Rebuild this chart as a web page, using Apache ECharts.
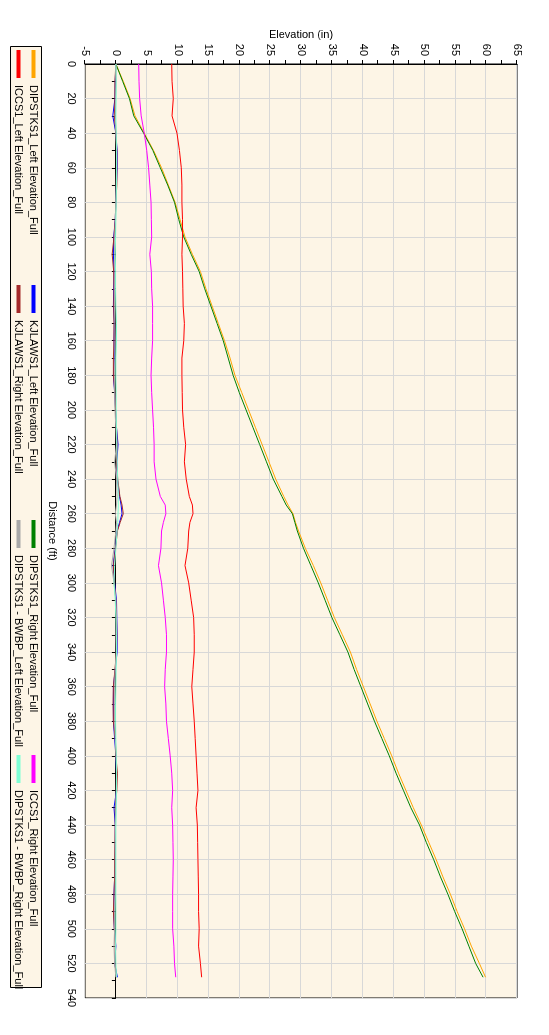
<!DOCTYPE html>
<html>
<head>
<meta charset="utf-8">
<script src="https://cdn.jsdelivr.net/npm/echarts@6/dist/echarts.min.js"></script>
<style>
html,body{margin:0;padding:0;background:#fff;width:549px;height:1035px;overflow:hidden;}
#chart{position:absolute;left:0;top:0;width:1035px;height:549px;transform-origin:0 0;transform:translate(549px,0) rotate(90deg);}
</style>
</head>
<body>
<div id="chart"></div>
<script>
// Distance (ft) sample positions
const distance = [0,10,20,30,40,50,60,70,80,90,100,110,120,130,140,150,160,170,180,190,200,210,220,230,240,250,255,260,265,270,280,290,300,310,320,330,340,350,360,370,380,390,400,410,420,430,440,450,460,470,480,490,500,510,520,528];

// Elevation (in) per series
const dipstksLeft = [0,1.2,2.3,3.1,4.6,6.1,7.4,8.5,9.6,10.4,11.2,12.4,13.7,14.6,15.6,16.6,17.6,18.5,19.3,20.4,21.5,22.6,23.7,24.8,25.9,27.2,27.9,28.7,29.1,29.6,30.7,32.0,33.2,34.3,35.4,36.7,38.0,39.0,40.1,41.2,42.3,43.5,44.7,45.8,47.0,48.2,49.5,50.7,51.9,53.0,54.2,55.3,56.5,57.6,58.9,59.9];
const kjlawsLeft = [0,-0.1,-0.15,-0.5,0,0.2,0.2,0.1,0,-0.1,-0.35,-0.4,-0.3,-0.35,-0.4,-0.25,-0.3,-0.25,-0.4,-0.2,-0.05,0.1,0.35,0.15,0.25,0.6,0.85,1.0,0.6,0.2,-0.1,-0.45,-0.2,0.1,0.15,0.2,0.2,-0.1,-0.4,-0.4,-0.4,-0.2,0,0.1,0.1,-0.3,-0.1,-0.1,-0.15,-0.2,-0.3,-0.35,-0.25,0,-0.2,0.25];
const dipstksRight = [0,1.1,2.2,2.9,4.5,6.0,7.2,8.4,9.5,10.2,11.0,12.2,13.5,14.4,15.4,16.4,17.4,18.2,19.0,20.0,21.1,22.2,23.3,24.4,25.5,26.9,27.6,28.6,29.0,29.4,30.4,31.6,32.8,33.9,35.0,36.3,37.6,38.6,39.7,40.8,41.9,43.1,44.3,45.4,46.6,47.8,49.2,50.3,51.5,52.6,53.8,54.9,56.1,57.2,58.3,59.5];
const iccsRight = [3.7,3.75,3.85,4.1,4.6,5.0,5.3,5.5,5.7,5.75,5.8,5.5,5.75,5.8,5.95,5.95,5.95,5.8,5.7,5.8,5.95,6.1,6.2,6.2,6.5,7.2,8.0,8.1,7.7,7.4,7.3,6.9,7.4,7.7,8.0,8.2,8.2,8.0,7.9,8.1,8.2,8.5,8.8,9.05,9.2,9.05,9.2,9.25,9.3,9.25,9.2,9.2,9.2,9.4,9.5,9.7];
const iccsLeft = [9.05,9.1,9.3,9.1,9.9,10.3,10.6,10.7,10.7,10.8,10.8,10.7,10.8,10.85,10.9,11.1,11.0,10.7,10.7,10.75,10.8,11.0,11.3,11.1,11.4,11.9,12.4,12.5,12.0,11.8,11.65,11.2,11.8,12.2,12.6,12.7,12.7,12.5,12.3,12.5,12.7,12.85,13.0,13.15,13.3,13.0,13.2,13.25,13.3,13.35,13.4,13.4,13.5,13.4,13.7,13.9];
const kjlawsRight = [0,-0.15,-0.15,-0.25,0,0.15,0.15,0.15,0,-0.1,-0.3,-0.6,-0.35,-0.3,-0.35,-0.3,-0.3,-0.4,-0.4,-0.15,-0.05,0.1,0.2,0.1,0.3,0.65,1.0,1.2,0.7,0.25,-0.05,-0.4,-0.25,0,0.1,0.15,0.1,-0.15,-0.4,-0.45,-0.4,-0.1,0,0.25,0.15,-0.1,-0.1,-0.15,-0.2,-0.2,-0.3,-0.4,-0.25,-0.1,-0.15,0.1];
const bwbpLeft = [0,0.05,-0.05,-0.1,0.05,0.1,0.1,0.05,0,-0.05,-0.2,-0.2,-0.15,-0.2,-0.2,-0.15,-0.1,-0.15,-0.2,-0.2,-0.15,0,0.1,-0.2,0.1,0.2,0.1,-0.1,0.1,0,-0.3,-0.7,-0.3,0,0.1,0,0.05,-0.1,-0.2,-0.2,-0.2,-0.1,0.1,0.1,0.05,0,-0.05,-0.1,-0.1,-0.1,-0.1,-0.2,-0.2,-0.3,-0.2,0];
const bwbpRight = [0,0.05,0.05,0,0.05,0.1,0.1,0.1,0.05,0,-0.05,-0.1,-0.05,-0.05,0,0.1,0.1,0,0,0.05,0.05,0.1,0.15,0.2,0.3,0.4,0.4,0.35,0.3,0.2,0,-0.2,-0.3,-0.1,0,0.1,0.1,0.05,0,-0.05,-0.05,0,0.05,0.1,0.1,0.05,0,0,0,0,0,0,0,-0.05,0,0.1];

const seriesNames = [
  'DIPSTKS1_Left Elevation_Full',
  'KJLAWS1_Left Elevation_Full',
  'DIPSTKS1_Right Elevation_Full',
  'ICCS1_Right Elevation_Full',
  'ICCS1_Left Elevation_Full',
  'KJLAWS1_Right Elevation_Full',
  'DIPSTKS1 - BWBP_Left Elevation_Full',
  'DIPSTKS1 - BWBP_Right Elevation_Full'
];
const seriesValues = [dipstksLeft,kjlawsLeft,dipstksRight,iccsRight,iccsLeft,kjlawsRight,bwbpLeft,bwbpRight];
const seriesColors = ['#FFA500','#0000FF','#008000','#FF00FF','#FF0000','#A52A2A','#A9A9A9','#7FFFD4'];

const FONT = 'Liberation Sans, Arial, sans-serif';
const chart = echarts.init(document.getElementById('chart'), null, {renderer:'canvas'});

const legendLeft = [50,285,520,755];
const legendTop = [509,524];
const legends = seriesNames.map((n,i)=>({
  data:[n],
  left: legendLeft[i%4],
  top: legendTop[Math.floor(i/4)],
  padding:0,
  icon:'rect',
  itemWidth:28,
  itemHeight:4,
  z:5,
  selectedMode:false,
  textStyle:{fontFamily:FONT,fontSize:11,color:'#000',lineHeight:13,padding:[0,0,0,2]}
}));

chart.setOption({
  animation:false,
  backgroundColor:'#fff',
  graphic:[{
    type:'rect', z:1,
    shape:{x:46.5,y:507.5,width:941,height:31},
    style:{fill:'#FDF5E6',stroke:'#000',lineWidth:1}
  }],
  legend: legends,
  grid:{left:64,right:37,top:32,bottom:85,show:true,backgroundColor:'#FDF5E6',borderColor:'#000',borderWidth:1},
  xAxis:{
    type:'value',min:0,max:540,interval:20,
    name:'Distance (ft)',nameLocation:'middle',nameGap:27,
    nameTextStyle:{fontFamily:FONT,fontSize:11,color:'#000'},
    axisLine:{show:true,lineStyle:{color:'#000',width:1}},
    axisTick:{show:true,length:4,lineStyle:{color:'#000'}},
    minorTick:{show:true,splitNumber:2,length:4,lineStyle:{color:'#000'}},
    axisLabel:{fontFamily:FONT,fontSize:11,color:'#000',margin:8,showMinLabel:true,showMaxLabel:true},
    splitLine:{show:true,lineStyle:{color:'#D8D8D8',width:1}}
  },
  yAxis:{
    type:'value',min:-5,max:65,interval:5,
    name:'Elevation (in)',nameLocation:'middle',nameGap:24,nameRotate:90,nameMoveOverlap:false,
    nameTextStyle:{fontFamily:FONT,fontSize:11,color:'#000'},
    axisLine:{show:true,onZero:false,lineStyle:{color:'#000',width:1}},
    axisTick:{show:true,length:4,lineStyle:{color:'#000'}},
    minorTick:{show:true,splitNumber:2,length:4,lineStyle:{color:'#000'}},
    axisLabel:{fontFamily:FONT,fontSize:11,color:'#000',margin:8,showMinLabel:true,showMaxLabel:true},
    splitLine:{show:true,lineStyle:{color:'#D8D8D8',width:1}}
  },
  series: seriesNames.map((n,i)=>({
    name:n,type:'line',showSymbol:false,symbol:'none',
    color:seriesColors[i],
    lineStyle:{color:seriesColors[i],width:1},
    data: distance.map((d,k)=>[d, seriesValues[i][k]])
  }))
});
</script>
</body>
</html>
